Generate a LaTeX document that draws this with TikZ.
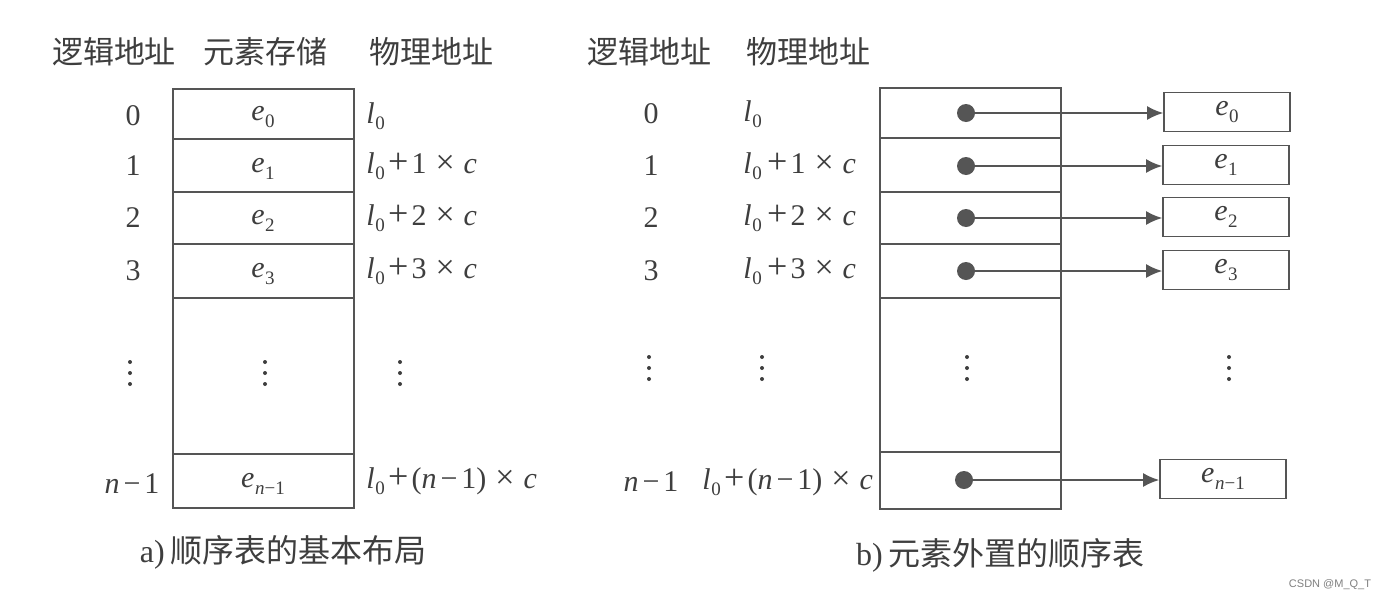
\documentclass[tikz,border=0pt]{standalone}
\usepackage{fontspec}
\setmainfont{Liberation Serif}
\newfontfamily\cjk{Noto Sans CJK SC}
\newfontfamily\wmfont{Liberation Sans}
\usetikzlibrary{arrows.meta}
\definecolor{ink}{RGB}{62,62,62}
\definecolor{ln}{RGB}{85,85,85}
\newcommand{\ix}[2]{\textit{#1}\kern0.3pt\raisebox{-0.45ex}{\fontsize{9.5}{9.5}\selectfont #2}}
\newcommand{\lz}{\ix{l}{0}}
\newcommand{\pl}{\kern1.6pt{\fontsize{18}{18}\selectfont +}\kern1.6pt}
\newcommand{\tm}{\kern4.5pt{\fontsize{17}{17}\selectfont ×}\kern4.5pt}
\newcommand{\mi}{\kern2pt−\kern2pt}
\begin{document}
\begin{tikzpicture}[x=0.5pt,y=-0.5pt,
  txt/.style={text=ink,font=\fontsize{15}{15}\selectfont,inner sep=0pt},
  hdr/.style={text=ink,font=\cjk\fontsize{15.5}{15.5}\selectfont,inner sep=0pt},
  captxt/.style={text=ink,font=\fontsize{16}{16}\selectfont,inner sep=0pt},
  tbl/.style={draw=ln,line width=0.9pt},
  ebox/.style={draw=ln,line width=0.9pt,minimum width=63pt,minimum height=19.5pt,inner sep=0pt,text=ink,font=\fontsize{15}{15}\selectfont},
  ptr/.style={circle,fill=ln,draw=none,minimum size=9pt,inner sep=0pt},
  vdot/.style={circle,fill=ink,draw=none,minimum size=2pt,inner sep=0pt},
  link/.style={draw=ln,line width=0.8pt,-{Latex[length=8pt,width=7pt]}}]
\useasboundingbox[fill=white] (0,0) rectangle (1382,600);

% ---------- a) ----------
\node[hdr] (ha1) at (114,52) {逻辑地址};
\node[hdr] (ha2) at (265,52) {元素存储};
\node[hdr] (ha3) at (431,52) {物理地址};

\draw[tbl] (173,89) rectangle (354,508);
\foreach \y in {139,192,244,298,454} \draw[tbl] (173,\y) -- (354,\y);

\node[txt] (ai0) at (133,116) {0};
\node[txt] (ai1) at (133,166) {1};
\node[txt] (ai2) at (133,218) {2};
\node[txt] (ai3) at (133,271) {3};
\node[txt] (ain) at (132,484) {\textit{n}\mi 1};

\node[txt] (ae0) at (263,117) {\ix{e}{0}};
\node[txt] (ae1) at (263,169) {\ix{e}{1}};
\node[txt] (ae2) at (263,221) {\ix{e}{2}};
\node[txt] (ae3) at (263,274) {\ix{e}{3}};
\node[txt] (aen) at (263,484) {\ix{e}{\textit{n}−1}};

\node[txt,anchor=west] (ap0) at (366,116) {\lz};
\node[txt,anchor=west] (ap1) at (366,166) {\lz\pl 1\tm\textit{c}};
\node[txt,anchor=west] (ap2) at (366,218) {\lz\pl 2\tm\textit{c}};
\node[txt,anchor=west] (ap3) at (366,271) {\lz\pl 3\tm\textit{c}};
\node[txt,anchor=west] (apn) at (366,481) {\lz\pl(\textit{n}\mi 1)\tm\textit{c}};

\foreach \x/\n in {130/a,265/b,400/c}{
  \node[vdot] (ad\n1) at (\x,362) {};
  \node[vdot] (ad\n2) at (\x,373) {};
  \node[vdot] (ad\n3) at (\x,384) {};
}

\node[captxt] (capa) at (283,552) {a)\,{\cjk 顺序表的基本布局}};

% ---------- b) ----------
\node[hdr] (hb1) at (649,52) {逻辑地址};
\node[hdr] (hb2) at (808,52) {物理地址};

\draw[tbl] (880,88) rectangle (1061,509);
\foreach \y in {138,192,244,298,452} \draw[tbl] (880,\y) -- (1061,\y);

\node[txt] (bi0) at (651,114) {0};
\node[txt] (bi1) at (651,166) {1};
\node[txt] (bi2) at (651,218) {2};
\node[txt] (bi3) at (651,271) {3};
\node[txt] (bin) at (651,482) {\textit{n}\mi 1};

\node[txt,anchor=west] (bp0) at (743,114) {\lz};
\node[txt,anchor=west] (bp1) at (743,166) {\lz\kern1pt\pl 1\tm\textit{c}};
\node[txt,anchor=west] (bp2) at (743,218) {\lz\kern1pt\pl 2\tm\textit{c}};
\node[txt,anchor=west] (bp3) at (743,271) {\lz\kern1pt\pl 3\tm\textit{c}};
\node[txt,anchor=west] (bpn) at (702,482) {\lz\pl(\textit{n}\mi 1)\tm\textit{c}};

\node[ptr] (d0) at (966,113) {};
\node[ptr] (d1) at (966,166) {};
\node[ptr] (d2) at (966,218) {};
\node[ptr] (d3) at (966,271) {};
\node[ptr] (dn) at (964,480) {};

\node[ebox] (b0) at (1227,112) {\raisebox{-1.5pt}{\ix{e}{0}}};
\node[ebox] (b1) at (1226,165) {\raisebox{-1.5pt}{\ix{e}{1}}};
\node[ebox] (b2) at (1226,217) {\raisebox{-1.5pt}{\ix{e}{2}}};
\node[ebox] (b3) at (1226,270) {\raisebox{-1.5pt}{\ix{e}{3}}};
\node[ebox] (bn) at (1223,479) {\raisebox{-1.5pt}{\ix{e}{\textit{n}−1}}};

\draw[link] (d0) -- (b0.west |- d0);
\draw[link] (d1) -- (b1.west |- d1);
\draw[link] (d2) -- (b2.west |- d2);
\draw[link] (d3) -- (b3.west |- d3);
\draw[link] (dn) -- (bn.west |- dn);

\foreach \x/\n in {649/a,762/b,967/c,1229/d}{
  \node[vdot] (bd\n1) at (\x,357) {};
  \node[vdot] (bd\n2) at (\x,368) {};
  \node[vdot] (bd\n3) at (\x,379) {};
}

\node[captxt] (capb) at (1000,555) {b)\,{\cjk 元素外置的顺序表}};

\node[inner sep=0pt,text=gray,font=\wmfont\fontsize{5.5}{5.5}\selectfont] (wm) at (1330,585) {CSDN @M\_Q\_T};
\end{tikzpicture}
\end{document}
